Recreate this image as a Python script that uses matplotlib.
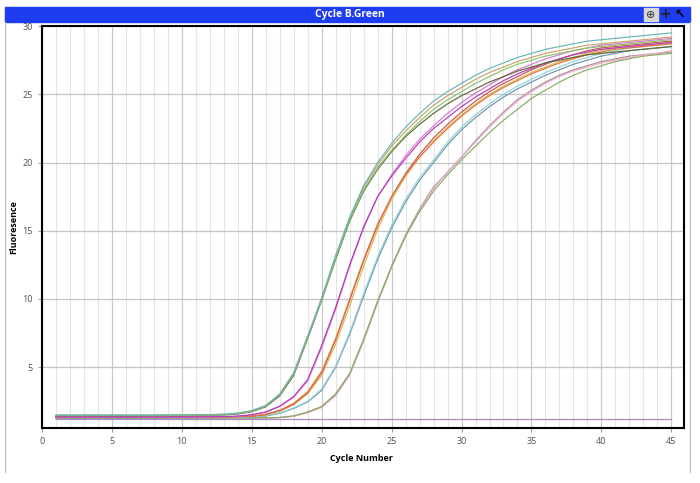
import matplotlib.pyplot as plt
from matplotlib.patches import Rectangle
from matplotlib.lines import Line2D
from matplotlib.ticker import MultipleLocator

plt.rcParams['font.family'] = ['Open Sans', 'DejaVu Sans']

cycles = list(range(1, 46))

# amplification curves (fluorescence per cycle)
green_1 = [1.50, 1.50, 1.51, 1.50, 1.50, 1.50, 1.50, 1.50, 1.51, 1.51,
           1.52, 1.53, 1.56, 1.64, 1.82, 2.20, 3.05, 4.60, 7.30, 10.0,
           13.0, 15.8, 18.0, 19.6, 20.9, 22.0, 23.0, 23.9, 24.6, 25.2,
           25.8, 26.3, 26.8, 27.2, 27.5, 27.8, 28.0, 28.2, 28.4, 28.5,
           28.6, 28.7, 28.8, 28.9, 29.0]
olive_1 = [1.45, 1.45, 1.46, 1.45, 1.45, 1.45, 1.45, 1.46, 1.46, 1.46,
           1.47, 1.48, 1.50, 1.57, 1.74, 2.10, 2.90, 4.40, 7.10, 9.90,
           12.9, 15.7, 17.9, 19.5, 20.8, 21.9, 22.8, 23.6, 24.3, 24.9,
           25.4, 25.9, 26.3, 26.7, 27.0, 27.3, 27.5, 27.7, 27.9, 28.0,
           28.1, 28.2, 28.3, 28.4, 28.5]
teal_1 = [1.48, 1.48, 1.48, 1.49, 1.48, 1.48, 1.48, 1.49, 1.49, 1.50,
          1.51, 1.52, 1.55, 1.62, 1.80, 2.18, 3.00, 4.55, 7.25, 10.1,
          13.2, 16.0, 18.3, 20.0, 21.4, 22.6, 23.6, 24.5, 25.2, 25.8,
          26.4, 26.9, 27.3, 27.7, 28.0, 28.3, 28.5, 28.7, 28.9, 29.0,
          29.1, 29.2, 29.3, 29.4, 29.5]
tan_1 = [1.47, 1.47, 1.47, 1.47, 1.47, 1.48, 1.47, 1.47, 1.48, 1.48,
         1.49, 1.50, 1.53, 1.60, 1.78, 2.15, 2.98, 4.50, 7.20, 10.0,
         13.1, 15.9, 18.2, 19.8, 21.2, 22.3, 23.3, 24.2, 24.9, 25.5,
         26.1, 26.6, 27.0, 27.4, 27.7, 28.0, 28.2, 28.4, 28.6, 28.7,
         28.8, 28.9, 29.0, 29.1, 29.2]
magenta_1 = [1.35, 1.35, 1.35, 1.36, 1.35, 1.35, 1.35, 1.35, 1.36, 1.36,
             1.36, 1.37, 1.38, 1.42, 1.52, 1.72, 2.15, 2.85, 4.10, 6.60,
             9.40, 12.5, 15.3, 17.5, 19.0, 20.3, 21.5, 22.5, 23.3, 24.1,
             24.8, 25.4, 26.0, 26.5, 26.9, 27.3, 27.6, 27.9, 28.1, 28.3,
             28.4, 28.5, 28.6, 28.7, 28.8]
orchid_1 = [1.33, 1.33, 1.34, 1.33, 1.33, 1.34, 1.33, 1.33, 1.34, 1.34,
            1.34, 1.35, 1.36, 1.40, 1.50, 1.70, 2.12, 2.80, 4.00, 6.45,
            9.25, 12.4, 15.2, 17.5, 19.1, 20.5, 21.7, 22.7, 23.6, 24.4,
            25.1, 25.7, 26.3, 26.8, 27.2, 27.6, 27.9, 28.2, 28.4, 28.6,
            28.7, 28.8, 28.9, 29.0, 29.1]
orange_1 = [1.36, 1.36, 1.36, 1.36, 1.37, 1.36, 1.36, 1.36, 1.37, 1.37,
            1.37, 1.37, 1.38, 1.39, 1.42, 1.55, 1.85, 2.35, 3.20, 4.70,
            7.10, 10.0, 12.9, 15.5, 17.5, 19.1, 20.4, 21.5, 22.5, 23.4,
            24.2, 24.9, 25.5, 26.0, 26.5, 26.9, 27.3, 27.6, 27.9, 28.1,
            28.3, 28.4, 28.5, 28.6, 28.7]
red_1 = [1.34, 1.34, 1.34, 1.35, 1.34, 1.34, 1.34, 1.35, 1.35, 1.35,
         1.35, 1.36, 1.37, 1.38, 1.41, 1.53, 1.82, 2.30, 3.15, 4.60,
         7.00, 9.90, 12.8, 15.4, 17.5, 19.2, 20.6, 21.8, 22.8, 23.7,
         24.5, 25.2, 25.8, 26.3, 26.8, 27.2, 27.6, 27.9, 28.2, 28.4,
         28.5, 28.6, 28.7, 28.8, 28.9]
gold_1 = [1.33, 1.33, 1.33, 1.33, 1.34, 1.33, 1.33, 1.33, 1.34, 1.34,
          1.34, 1.34, 1.35, 1.36, 1.39, 1.50, 1.78, 2.25, 3.05, 4.40,
          6.70, 9.50, 12.4, 15.1, 17.3, 19.0, 20.4, 21.6, 22.6, 23.5,
          24.3, 25.0, 25.6, 26.1, 26.6, 27.0, 27.4, 27.7, 28.0, 28.2,
          28.4, 28.5, 28.6, 28.7, 28.8]
blue_1 = [1.30, 1.30, 1.30, 1.31, 1.30, 1.30, 1.30, 1.30, 1.31, 1.31,
          1.31, 1.31, 1.32, 1.33, 1.35, 1.42, 1.62, 1.98, 2.45, 3.30,
          5.00, 7.40, 10.2, 12.9, 15.2, 17.1, 18.7, 20.0, 21.3, 22.4,
          23.3, 24.1, 24.8, 25.4, 25.9, 26.4, 26.8, 27.2, 27.5, 27.8,
          28.0, 28.2, 28.3, 28.4, 28.5]
cyan_1 = [1.32, 1.32, 1.32, 1.32, 1.33, 1.32, 1.32, 1.32, 1.33, 1.33,
          1.33, 1.33, 1.34, 1.35, 1.37, 1.45, 1.66, 2.02, 2.50, 3.40,
          5.10, 7.55, 10.4, 13.1, 15.4, 17.3, 18.9, 20.2, 21.5, 22.6,
          23.5, 24.3, 25.0, 25.6, 26.1, 26.6, 27.0, 27.4, 27.7, 28.0,
          28.2, 28.4, 28.5, 28.6, 28.7]
mauve_1 = [1.25, 1.25, 1.25, 1.26, 1.25, 1.25, 1.25, 1.25, 1.26, 1.26,
           1.26, 1.26, 1.26, 1.27, 1.27, 1.28, 1.31, 1.42, 1.70, 2.10,
           3.00, 4.50, 7.00, 9.80, 12.4, 14.7, 16.6, 18.2, 19.3, 20.4,
           21.6, 22.7, 23.7, 24.6, 25.3, 25.9, 26.4, 26.8, 27.1, 27.4,
           27.6, 27.8, 27.9, 28.0, 28.1]
pink_1 = [1.24, 1.24, 1.24, 1.24, 1.25, 1.24, 1.24, 1.24, 1.25, 1.25,
          1.25, 1.25, 1.25, 1.26, 1.26, 1.27, 1.30, 1.40, 1.66, 2.05,
          2.90, 4.40, 6.90, 9.70, 12.3, 14.6, 16.5, 18.1, 19.3, 20.4,
          21.5, 22.6, 23.6, 24.5, 25.2, 25.8, 26.3, 26.7, 27.0, 27.3,
          27.5, 27.7, 27.9, 28.0, 28.2]
sage_1 = [1.26, 1.26, 1.26, 1.26, 1.27, 1.26, 1.26, 1.26, 1.27, 1.27,
          1.27, 1.27, 1.27, 1.28, 1.28, 1.29, 1.32, 1.43, 1.72, 2.12,
          3.05, 4.55, 7.05, 9.85, 12.4, 14.6, 16.4, 17.9, 19.1, 20.2,
          21.2, 22.2, 23.1, 23.9, 24.7, 25.3, 25.9, 26.4, 26.8, 27.1,
          27.4, 27.6, 27.8, 27.9, 28.0]
# negative controls (flat)
neg_purple = [1.18, 1.18, 1.18, 1.18, 1.18, 1.18, 1.18, 1.18, 1.18, 1.18,
              1.18, 1.18, 1.18, 1.18, 1.18, 1.18, 1.18, 1.18, 1.18, 1.18,
              1.18, 1.18, 1.18, 1.18, 1.18, 1.18, 1.18, 1.18, 1.18, 1.18,
              1.18, 1.18, 1.18, 1.18, 1.18, 1.18, 1.18, 1.18, 1.18, 1.18,
              1.18, 1.18, 1.18, 1.18, 1.18]
neg_khaki = [1.21, 1.21, 1.21, 1.21, 1.21, 1.21, 1.21, 1.21, 1.21, 1.21,
             1.21, 1.21, 1.21, 1.21, 1.21, 1.21, 1.21, 1.21, 1.21, 1.21,
             1.21, 1.21, 1.21, 1.21, 1.21, 1.21, 1.21, 1.21, 1.21, 1.21,
             1.21, 1.21, 1.21, 1.21, 1.21, 1.21, 1.21, 1.21, 1.21, 1.21,
             1.21, 1.21, 1.21, 1.21, 1.21]

series = [
    (neg_khaki, '#c9c39a'), (neg_purple, '#a98ac8'),
    (mauve_1, '#a88e96'), (pink_1, '#f0a8c8'), (sage_1, '#86ad62'),
    (blue_1, '#6e93aa'), (cyan_1, '#93d3da'),
    (gold_1, '#d8b85a'), (red_1, '#c9564e'), (orange_1, '#e5773a'),
    (orchid_1, '#d67ad6'), (magenta_1, '#b53cb5'),
    (olive_1, '#5f6b34'), (tan_1, '#c9a36a'), (green_1, '#8cc26e'),
    (teal_1, '#67b6b4'),
]

fig = plt.figure(figsize=(7, 4.83), dpi=100)
ax = fig.add_axes([0.06, 0.114, 0.917, 0.832])

for vals, col in series:
    ax.plot(cycles, vals, color=col, lw=0.85)

ax.set_xlim(0, 45.9)
ax.set_ylim(0.55, 30)
ax.xaxis.set_major_locator(MultipleLocator(5))
ax.xaxis.set_minor_locator(MultipleLocator(1))
ax.set_yticks([5, 10, 15, 20, 25, 30])
ax.grid(which='minor', axis='x', color='#e4e4e4', lw=0.8)
ax.grid(which='major', axis='x', color='#c8c8c8', lw=0.9)
ax.grid(which='major', axis='y', color='#c4c4c4', lw=0.9)
ax.set_axisbelow(True)
ax.tick_params(which='both', labelsize=6.5, labelcolor='#505050', color='#888888', length=3, width=0.6)
ax.tick_params(which='minor', length=0)
for s in ax.spines.values():
    s.set_color('black')
    s.set_linewidth(1.5)

ax.set_xlabel('Cycle Number', fontsize=6.5, fontweight='bold')
ax.xaxis.set_label_coords(0.498, -0.065)
ax.set_ylabel('Fluoresence', fontsize=6.5, fontweight='bold')
ax.yaxis.set_label_coords(-0.037, 0.5)

# title banner
fig.patches.append(Rectangle((5 / 700, 1 - 22 / 483), 685 / 700, 15 / 483,
                             transform=fig.transFigure, color='#1e3cf0', zorder=0))
fig.text(350 / 700, 1 - 14.5 / 483, 'Cycle B.Green', color='white', fontsize=7.5,
         fontweight='bold', ha='center', va='center')
fig.patches.append(Rectangle((644 / 700, 1 - 21 / 483), 14 / 700, 13 / 483,
                             transform=fig.transFigure, color='#d8d8d8', zorder=1))
fig.text(651 / 700, 1 - 14.5 / 483, '⊕', color='#333333', fontsize=8,
         ha='center', va='center', family='DejaVu Sans')
fig.text(665 / 700, 1 - 14.5 / 483, '+', color='#222222', fontsize=10, fontweight='bold',
         ha='center', va='center', family='DejaVu Sans')
fig.text(679 / 700, 1 - 14.5 / 483, '↖', color='black', fontsize=9, fontweight='bold',
         ha='center', va='center', family='DejaVu Sans')

# outer panel border
for xp in (5, 690):
    fig.add_artist(Line2D([xp / 700, xp / 700], [1 - 472 / 483, 1 - 22 / 483],
                          transform=fig.transFigure, color='#b8b8b8', lw=0.8))

plt.savefig('out.png', dpi=100)
